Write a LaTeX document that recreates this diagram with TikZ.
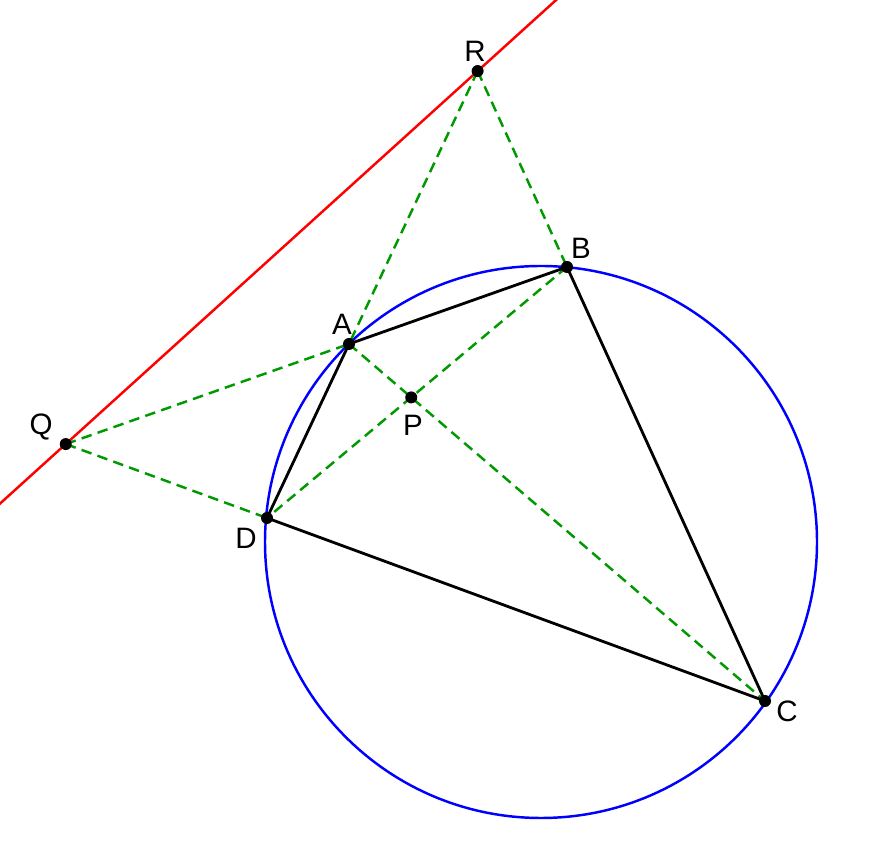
\documentclass[tikz,border=0pt]{standalone}
\usepackage{fontspec}
\setmainfont{Liberation Sans}
\usepackage{tikz}
\usetikzlibrary{positioning}
\usepackage{xcolor}
\definecolor{zielony}{RGB}{0,153,0}

\begin{document}
\begin{tikzpicture}[
        pkt/.style={circle, fill=black, inner sep=0pt, minimum size=0.12cm},
        etykieta/.style={inner sep=0pt, font=\fontsize{8.4}{10}\selectfont},
        przerywana/.style={zielony, line width=0.7pt, dash pattern=on 3pt off 1.8pt}
    ]

            % Obszar rysunku
            \clip (0, 0) rectangle (8.86, -8.58);

            % Punkty na okręgu
            \coordinate (O) at (5.41, -5.42);
            \coordinate (A) at (3.49, -3.44);
            \coordinate (B) at (5.67, -2.67);
            \coordinate (C) at (7.65, -7.01);
            \coordinate (D) at (2.67, -5.18);

            % Punkty przecięcia
            \coordinate (P) at (intersection of A--C and B--D);
            \coordinate (Q) at (intersection of A--B and C--D);
            \coordinate (R) at (intersection of A--D and B--C);

            % Okrąg
            \draw[blue, line width=0.7pt] (O) circle (2.76);

            % Biegunowa (czerwona prosta)
            \draw[red, line width=0.7pt, shorten <=-1cm, shorten >=-1.2cm] (Q) -- (R);

            % Linie przerywane
            \draw[przerywana] (R) -- (A);
            \draw[przerywana] (R) -- (B);
            \draw[przerywana] (Q) -- (A);
            \draw[przerywana] (Q) -- (D);
            \draw[przerywana] (A) -- (C);
            \draw[przerywana] (B) -- (D);

            % Czworokąt ABCD
            \draw[line width=0.8pt, line join=round] (A) -- (B) -- (C) -- (D) -- cycle;

            % Punkty
            \foreach \p in {A, B, C, D, P, Q, R}
                \node[pkt] at (\p) {};

            % Etykiety punktów
            \node[etykieta] (lA) at (3.42, -3.24) {A};
            \node[etykieta] (lB) at (5.81, -2.48) {B};
            \node[etykieta] (lC) at (7.87, -7.11) {C};
            \node[etykieta] (lD) at (2.46, -5.38) {D};
            \node[etykieta] (lP) at (4.13, -4.25) {P};
            \node[etykieta] (lQ) at (0.41, -4.27) {Q};
            \node[etykieta] (lR) at (4.75, -0.51) {R};

            \end{tikzpicture}
\end{document}
